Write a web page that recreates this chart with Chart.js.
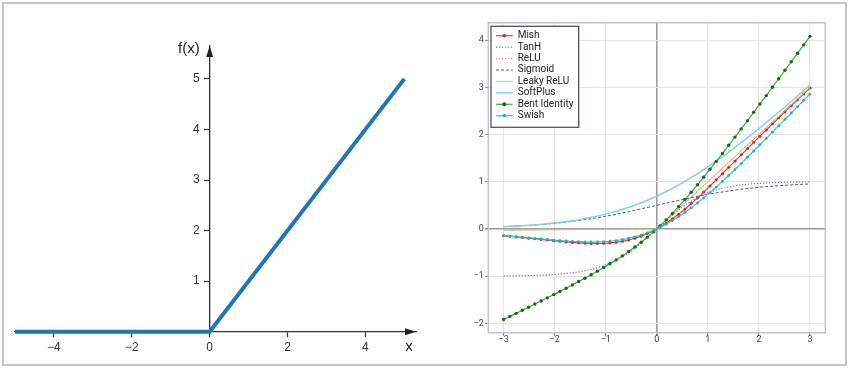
<!DOCTYPE html>
<html>
<head>
<meta charset="utf-8">
<script src="https://cdn.jsdelivr.net/npm/chart.js@4.4.1/dist/chart.umd.min.js"></script>
<style>
  body { margin: 0; background: #fff; }
  #frame { position: absolute; left: 2px; top: 2px; width: 845px; height: 364px; box-sizing: border-box; border: 2px solid #c6c6c6; }
  canvas { position: absolute; top: 0; }
  #reluChart { left: 0; }
  #actChart { left: 425px; }
</style>
</head>
<body>
<div id="frame"></div>
<canvas id="reluChart" width="425" height="369"></canvas>
<canvas id="actChart" width="425" height="369"></canvas>
<script>
// left panel: plain ReLU
const reluX = [-5, 0, 5];
const reluY = [0, 0, 5];
const leftXTicks = [-4, -2, 0, 2, 4];
const leftYTicks = [1, 2, 3, 4, 5];

// right panel: activation functions
const xs = [-3, -2.878, -2.755, -2.633, -2.51, -2.388, -2.265, -2.143, -2.02, -1.898,
  -1.776, -1.653, -1.531, -1.408, -1.286, -1.163, -1.041, -0.918, -0.796, -0.673,
  -0.551, -0.429, -0.306, -0.184, -0.061, 0.061, 0.184, 0.306, 0.429, 0.551,
  0.673, 0.796, 0.918, 1.041, 1.163, 1.286, 1.408, 1.531, 1.653, 1.776,
  1.898, 2.02, 2.143, 2.265, 2.388, 2.51, 2.633, 2.755, 2.878, 3];
const mish = [-0.146, -0.157, -0.170, -0.183, -0.196, -0.209, -0.223, -0.237, -0.250, -0.263,
  -0.276, -0.287, -0.296, -0.303, -0.308, -0.309, -0.305, -0.297, -0.283, -0.263,
  -0.235, -0.199, -0.154, -0.099, -0.036, 0.038, 0.121, 0.213, 0.313, 0.421,
  0.536, 0.656, 0.780, 0.908, 1.039, 1.171, 1.304, 1.437, 1.570, 1.703,
  1.835, 1.966, 2.096, 2.226, 2.354, 2.482, 2.609, 2.736, 2.861, 2.987];
const swish = [-0.142, -0.153, -0.165, -0.177, -0.189, -0.201, -0.213, -0.225, -0.237, -0.247,
  -0.257, -0.266, -0.272, -0.277, -0.278, -0.277, -0.272, -0.262, -0.247, -0.227,
  -0.201, -0.169, -0.130, -0.083, -0.030, 0.032, 0.100, 0.176, 0.260, 0.350,
  0.446, 0.549, 0.657, 0.769, 0.887, 1.007, 1.132, 1.258, 1.388, 1.518,
  1.651, 1.784, 1.918, 2.052, 2.187, 2.322, 2.456, 2.590, 2.724, 2.858];
const bent = [-1.919, -1.854, -1.790, -1.725, -1.659, -1.593, -1.527, -1.461, -1.393, -1.325,
  -1.257, -1.187, -1.116, -1.045, -0.971, -0.896, -0.819, -0.740, -0.657, -0.571,
  -0.480, -0.385, -0.283, -0.175, -0.060, 0.062, 0.192, 0.329, 0.473, 0.622,
  0.776, 0.935, 1.097, 1.263, 1.430, 1.600, 1.772, 1.945, 2.119, 2.294,
  2.471, 2.648, 2.825, 3.003, 3.182, 3.361, 3.541, 3.721, 3.901, 4.081];

const xsCoarse = [-3, -2.5, -2, -1.5, -1, -0.5, 0, 0.5, 1, 1.5, 2, 2.5, 3];
const tanh = [-0.995, -0.987, -0.964, -0.905, -0.762, -0.462, 0, 0.462, 0.762, 0.905, 0.964, 0.987, 0.995];
const sigmoid = [0.047, 0.076, 0.119, 0.182, 0.269, 0.378, 0.5, 0.622, 0.731, 0.818, 0.881, 0.924, 0.953];
const softplus = [0.049, 0.079, 0.127, 0.201, 0.313, 0.474, 0.693, 0.974, 1.313, 1.701, 2.127, 2.579, 3.049];

const xsKink = [-3, 0, 3];
const relu = [0, 0, 3];
const leaky = [-0.03, 0, 3];

const rightXTicks = [-3, -2, -1, 0, 1, 2, 3];
const rightYTicks = [-2, -1, 0, 1, 2, 3, 4];

const minus = v => String(v).replace('-', '\u2212');
const pts = (xArr, yArr) => xArr.map((x, i) => ({ x: x, y: yArr[i] }));

// ---------- left chart ----------
const arrowAxes = {
  id: 'arrowAxes',
  afterDraw(chart) {
    const ctx = chart.ctx;
    const ox = chart.scales.x.getPixelForValue(0);
    const oy = chart.scales.y.getPixelForValue(0);
    const right = chart.chartArea.right, top = chart.chartArea.top;
    ctx.save();
    ctx.fillStyle = '#222';
    ctx.beginPath();
    ctx.moveTo(right, oy); ctx.lineTo(right - 11, oy - 3.5); ctx.lineTo(right - 11, oy + 3.5);
    ctx.closePath(); ctx.fill();
    ctx.beginPath();
    ctx.moveTo(ox, top); ctx.lineTo(ox - 3.5, top + 11); ctx.lineTo(ox + 3.5, top + 11);
    ctx.closePath(); ctx.fill();
    ctx.font = '15px "Liberation Sans"';
    ctx.textBaseline = 'middle';
    ctx.textAlign = 'right';
    ctx.fillText('f(x)', ox - 10, top + 3);
    ctx.textAlign = 'center';
    ctx.fillText('x', right - 7, oy + 15);
    ctx.restore();
  }
};

new Chart(document.getElementById('reluChart'), {
  type: 'line',
  data: {
    datasets: [{
      data: pts(reluX, reluY),
      borderColor: '#1f77b4',
      borderWidth: 4,
      borderCapStyle: 'butt',
      pointRadius: 0,
      clip: false
    }]
  },
  options: {
    responsive: false,
    animation: false,
    devicePixelRatio: 1,
    layout: { padding: { left: 15, right: 9, top: 46, bottom: 37.3 } },
    plugins: { legend: { display: false }, tooltip: { enabled: false } },
    scales: {
      x: {
        type: 'linear', min: -5, max: 5.3, position: { y: 0 },
        afterFit: s => { s.height = 0; },
        afterBuildTicks: s => { s.ticks = leftXTicks.map(v => ({ value: v })); },
        grid: { drawOnChartArea: false, tickLength: 5, tickColor: '#333', tickWidth: 1.2 },
        border: { color: '#333', width: 1.3 },
        ticks: { padding: 3.5, color: '#333', font: { size: 12, family: 'Liberation Sans' }, callback: minus }
      },
      y: {
        type: 'linear', min: 0, max: 5.65, position: { x: 0 },
        afterFit: s => { s.width = 0; },
        afterBuildTicks: s => { s.ticks = leftYTicks.map(v => ({ value: v })); },
        grid: { drawOnChartArea: false, tickLength: 5, tickColor: '#333', tickWidth: 1.2 },
        border: { color: '#333', width: 1.3 },
        ticks: { color: '#333', font: { size: 12, family: 'Liberation Sans' }, callback: v => v + '   ' }
      }
    }
  },
  plugins: [arrowAxes]
});

// ---------- right chart ----------
const series = [
  { label: 'Mish', data: pts(xs, mish), borderColor: '#e63840', pointBackgroundColor: '#dd1f2c', pointRadius: 1.5, borderWidth: 1.2 },
  { label: 'TanH', data: pts(xsCoarse, tanh), borderColor: '#6a6af0', borderDash: [1.2, 1.8], borderWidth: 1.2, pointRadius: 0, cubicInterpolationMode: 'monotone' },
  { label: 'ReLU', data: pts(xsKink, relu), borderColor: '#d58fe0', borderDash: [1.2, 1.8], borderWidth: 1.2, pointRadius: 0 },
  { label: 'Sigmoid', data: pts(xsCoarse, sigmoid), borderColor: '#555', borderDash: [3, 2], borderWidth: 1, pointRadius: 0, cubicInterpolationMode: 'monotone' },
  { label: 'Leaky ReLU', data: pts(xsKink, leaky), borderColor: '#cdbf5a', borderWidth: 1, pointRadius: 0 },
  { label: 'SoftPlus', data: pts(xsCoarse, softplus), borderColor: '#80d4d4', borderWidth: 1.5, pointRadius: 0, cubicInterpolationMode: 'monotone' },
  { label: 'Bent Identity', data: pts(xs, bent), borderColor: '#4ea24e', pointBackgroundColor: '#0d6e0d', pointRadius: 1.7, borderWidth: 1.2 },
  { label: 'Swish', data: pts(xs, swish), borderColor: '#30c4c8', pointBackgroundColor: '#1eb0b6', pointRadius: 1.4, borderWidth: 1.2 }
];
series.forEach((s, i) => {
  s.order = series.length - i; // later series on top, like the original
  s.pointBorderWidth = 0;
  s.fill = false;
});

const frameAndLegend = {
  id: 'frameAndLegend',
  beforeDatasetsDraw(chart) {
    const { ctx, chartArea: a } = chart;
    ctx.save();
    ctx.strokeStyle = '#c4c4c4';
    ctx.lineWidth = 1.5;
    ctx.strokeRect(a.left, a.top, a.right - a.left, a.bottom - a.top);
    ctx.restore();
  },
  afterDraw(chart) {
    const { ctx, chartArea: a } = chart;
    const x0 = a.left + 2.7, y0 = a.top + 3.6, w = 87.7, h = 101;
    ctx.save();
    ctx.fillStyle = 'rgba(255,255,255,0.95)';
    ctx.fillRect(x0, y0, w, h);
    ctx.strokeStyle = '#4d5468';
    ctx.lineWidth = 1.3;
    ctx.strokeRect(x0, y0, w, h);
    ctx.font = '10px Roboto';
    ctx.textBaseline = 'middle';
    ctx.textAlign = 'left';
    chart.data.datasets.forEach((ds, i) => {
      const cy = y0 + 9.4 + i * 11.43;
      ctx.strokeStyle = ds.borderColor;
      ctx.lineWidth = ds.borderWidth;
      ctx.setLineDash(ds.borderDash || []);
      ctx.beginPath();
      ctx.moveTo(x0 + 5, cy); ctx.lineTo(x0 + 21.7, cy);
      ctx.stroke();
      ctx.setLineDash([]);
      if (ds.pointRadius) {
        ctx.fillStyle = ds.pointBackgroundColor;
        ctx.beginPath();
        ctx.arc(x0 + 13.3, cy, ds.pointRadius + 0.3, 0, Math.PI * 2);
        ctx.fill();
      }
      ctx.fillStyle = '#222';
      ctx.fillText(ds.label, x0 + 26.7, cy);
    });
    ctx.restore();
  }
};

const gridColor = c => c.tick && c.tick.value === 0 ? '#9a9a9a' : '#e3e3e3';
const gridWidth = c => c.tick && c.tick.value === 0 ? 1.6 : 1;

new Chart(document.getElementById('actChart'), {
  type: 'line',
  data: { datasets: series },
  options: {
    responsive: false,
    animation: false,
    devicePixelRatio: 1,
    layout: { padding: { left: 0, right: 24.7, top: 22.7, bottom: 0 } },
    plugins: { legend: { display: false }, tooltip: { enabled: false } },
    scales: {
      x: {
        type: 'linear', min: -3.3, max: 3.3,
        afterFit: s => { s.height = 36.3; },
        afterBuildTicks: s => { s.ticks = rightXTicks.map(v => ({ value: v })); },
        grid: { color: gridColor, lineWidth: gridWidth, tickLength: 3, tickColor: '#777' },
        border: { display: false },
        ticks: { padding: -1.5, color: '#444', font: { size: 9, family: 'Roboto' }, callback: minus }
      },
      y: {
        type: 'linear', min: -2.2, max: 4.37,
        afterFit: s => { s.width = 63.3; },
        afterBuildTicks: s => { s.ticks = rightYTicks.map(v => ({ value: v })); },
        grid: { color: gridColor, lineWidth: gridWidth, tickLength: 3, tickColor: '#777' },
        border: { display: false },
        ticks: { padding: 1.5, color: '#444', font: { size: 9, family: 'Roboto' }, callback: minus }
      }
    }
  },
  plugins: [frameAndLegend]
});
</script>
</body>
</html>
